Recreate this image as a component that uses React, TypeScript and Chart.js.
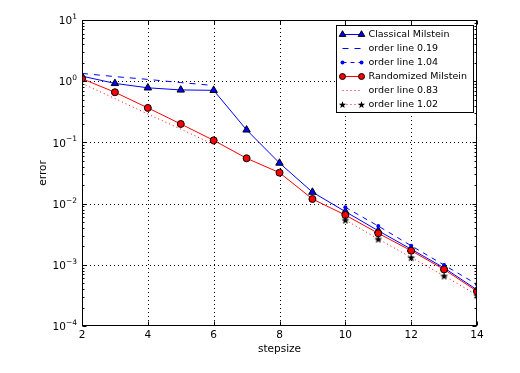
import { useEffect, useRef } from 'react';
import { Chart, registerables } from 'chart.js';

Chart.register(...registerables);

// ---- data ----
const steps = [2, 3, 4, 5, 6, 7, 8, 9, 10, 11, 12, 13, 14];
const classicalMilstein = [1.21, 0.92, 0.78, 0.72, 0.71, 0.16, 0.046, 0.0154, 0.0074, 0.0036, 0.0018, 0.00089, 0.00039];
const randomizedMilstein = [1.1, 0.66, 0.366, 0.2, 0.108, 0.055, 0.032, 0.0119, 0.0065, 0.00327, 0.0017, 0.00084, 0.00037];

const orderSteps019 = [2, 3, 4, 5, 6];
const orderLine019 = [1.34, 1.19, 1.07, 0.95, 0.85];
const orderSteps104 = [10, 11, 12, 13, 14];
const orderLine104 = [0.0087, 0.0043, 0.00205, 0.00099, 0.00048];
const orderSteps083 = [2, 3, 4, 5, 6];
const orderLine083 = [0.92, 0.52, 0.29, 0.165, 0.092];
const orderSteps102 = [10, 11, 12, 13, 14];
const orderLine102 = [0.0054, 0.00264, 0.00132, 0.00066, 0.00032];

const seriesLabels = [
  'Classical Milstein',
  'order line 0.19',
  'order line 1.04',
  'Randomized Milstein',
  'order line 0.83',
  'order line 1.02',
];

const xTicks = [2, 4, 6, 8, 10, 12, 14];
const yExponents = [-4, -3, -2, -1, 0, 1];

const FONT = "'DejaVu Sans', 'Liberation Sans', sans-serif";
const BLUE = '#0000ff';
const RED = '#ff0000';
const DASHED = [6, 6];
const DOTTED = [1, 3];

function starPath(ctx: CanvasRenderingContext2D, cx: number, cy: number, R: number) {
  const r = R * 0.42;
  ctx.beginPath();
  for (let i = 0; i < 10; i++) {
    const ang = -Math.PI / 2 + (i * Math.PI) / 5;
    const rad = i % 2 === 0 ? R : r;
    const px = cx + rad * Math.cos(ang);
    const py = cy + rad * Math.sin(ang);
    if (i === 0) ctx.moveTo(px, py);
    else ctx.lineTo(px, py);
  }
  ctx.closePath();
}

function makeStar(): HTMLCanvasElement {
  const c = document.createElement('canvas');
  c.width = 9;
  c.height = 9;
  const ctx = c.getContext('2d')!;
  starPath(ctx, 4.5, 5, 4.2);
  ctx.fillStyle = '#000';
  ctx.fill();
  return c;
}

type LegendSpec = {
  color: string;
  dash: number[];
  marker: 'triangle' | 'circle' | 'dot' | 'star' | 'none';
};

const legendSpecs: LegendSpec[] = [
  { color: BLUE, dash: [], marker: 'triangle' },
  { color: BLUE, dash: DASHED, marker: 'none' },
  { color: BLUE, dash: [4, 4], marker: 'dot' },
  { color: RED, dash: [], marker: 'circle' },
  { color: RED, dash: DOTTED, marker: 'none' },
  { color: RED, dash: DOTTED, marker: 'star' },
];

function drawMarker(ctx: CanvasRenderingContext2D, type: string, x: number, y: number) {
  ctx.save();
  ctx.setLineDash([]);
  if (type === 'triangle') {
    const r = 3.8;
    ctx.beginPath();
    ctx.moveTo(x, y - r);
    ctx.lineTo(x + r * 0.866, y + r * 0.5);
    ctx.lineTo(x - r * 0.866, y + r * 0.5);
    ctx.closePath();
    ctx.fillStyle = BLUE;
    ctx.fill();
    ctx.lineWidth = 1;
    ctx.strokeStyle = '#000';
    ctx.stroke();
  } else if (type === 'circle') {
    ctx.beginPath();
    ctx.arc(x, y, 3, 0, Math.PI * 2);
    ctx.fillStyle = RED;
    ctx.fill();
    ctx.lineWidth = 1;
    ctx.strokeStyle = '#000';
    ctx.stroke();
  } else if (type === 'dot') {
    ctx.beginPath();
    ctx.arc(x, y, 2, 0, Math.PI * 2);
    ctx.fillStyle = BLUE;
    ctx.fill();
  } else if (type === 'star') {
    starPath(ctx, x, y + 0.5, 3.8);
    ctx.fillStyle = '#000';
    ctx.fill();
  }
  ctx.restore();
}

const decorPlugin = {
  id: 'decor',
  beforeDatasetsDraw(chart: any) {
    const { ctx, chartArea: a, scales } = chart;
    const x = scales.x;
    const y = scales.y;
    ctx.save();
    ctx.strokeStyle = '#000';
    ctx.lineWidth = 1;
    ctx.setLineDash(DOTTED);
    for (const v of xTicks) {
      const px = Math.round(x.getPixelForValue(v)) + 0.5;
      if (px <= a.left + 1 || px >= a.right - 1) continue;
      ctx.beginPath();
      ctx.moveTo(px, a.top);
      ctx.lineTo(px, a.bottom);
      ctx.stroke();
    }
    for (const e of yExponents) {
      const py = Math.round(y.getPixelForValue(Math.pow(10, e))) + 0.5;
      if (py <= a.top + 1 || py >= a.bottom - 1) continue;
      ctx.beginPath();
      ctx.moveTo(a.left, py);
      ctx.lineTo(a.right, py);
      ctx.stroke();
    }
    ctx.restore();
  },
  afterDatasetsDraw(chart: any) {
    const { ctx, chartArea: a, scales } = chart;
    const x = scales.x;
    const y = scales.y;
    ctx.save();
    ctx.setLineDash([]);
    ctx.strokeStyle = '#000';
    ctx.lineWidth = 1;
    // frame
    const L = Math.round(a.left) + 0.5;
    const R = Math.round(a.right) - 0.5;
    const T = Math.round(a.top) + 0.5;
    const B = Math.round(a.bottom) - 0.5;
    ctx.strokeRect(L, T, R - L, B - T);
    // x ticks (inward, bottom and top)
    ctx.beginPath();
    for (const v of xTicks) {
      const px = Math.round(x.getPixelForValue(v)) + 0.5;
      ctx.moveTo(px, B);
      ctx.lineTo(px, B - 4);
      ctx.moveTo(px, T);
      ctx.lineTo(px, T + 4);
    }
    // y ticks major + minor
    for (const e of yExponents) {
      const py = Math.round(y.getPixelForValue(Math.pow(10, e))) + 0.5;
      ctx.moveTo(L, py);
      ctx.lineTo(L + 4, py);
      ctx.moveTo(R, py);
      ctx.lineTo(R - 4, py);
      if (e < 1) {
        for (let m = 2; m <= 9; m++) {
          const pm = Math.round(y.getPixelForValue(m * Math.pow(10, e))) + 0.5;
          ctx.moveTo(L, pm);
          ctx.lineTo(L + 2, pm);
          ctx.moveTo(R, pm);
          ctx.lineTo(R - 2, pm);
        }
      }
    }
    ctx.stroke();

    // y tick labels with superscripts
    ctx.fillStyle = '#000';
    for (const e of yExponents) {
      const py = y.getPixelForValue(Math.pow(10, e));
      const expText = e < 0 ? '\u2212' + String(-e) : String(e);
      ctx.font = `7.5px ${FONT}`;
      ctx.textAlign = 'right';
      ctx.textBaseline = 'alphabetic';
      const xr = a.left - 5;
      ctx.fillText(expText, xr, py - 1);
      const w = ctx.measureText(expText).width;
      ctx.font = `10.5px ${FONT}`;
      ctx.textBaseline = 'middle';
      ctx.fillText('10', xr - w, py + 1.5);
    }

    // axis titles
    ctx.font = `10.5px ${FONT}`;
    ctx.textAlign = 'center';
    ctx.textBaseline = 'middle';
    ctx.fillText('stepsize', (a.left + a.right) / 2, a.bottom + 23);
    ctx.save();
    ctx.translate(a.left - 39, (a.top + a.bottom) / 2);
    ctx.rotate(-Math.PI / 2);
    ctx.fillText('error', 0, 0);
    ctx.restore();

    // legend
    const bw = 137;
    const bh = 87;
    const bx = Math.round(a.right - 4 - bw) + 0.5;
    const by = Math.round(a.top + 5) + 0.5;
    ctx.fillStyle = '#fff';
    ctx.fillRect(bx, by, bw, bh);
    ctx.strokeStyle = '#000';
    ctx.lineWidth = 1;
    ctx.strokeRect(bx, by, bw, bh);
    ctx.font = `9.5px ${FONT}`;
    ctx.textAlign = 'left';
    ctx.textBaseline = 'middle';
    legendSpecs.forEach((s, i) => {
      const ry = by + 9 + i * 14;
      const x0 = bx + 6;
      const x1 = bx + 25;
      ctx.save();
      ctx.strokeStyle = s.color;
      ctx.lineWidth = 1;
      ctx.setLineDash(s.dash);
      ctx.beginPath();
      ctx.moveTo(x0, ry);
      ctx.lineTo(x1, ry);
      ctx.stroke();
      ctx.restore();
      if (s.marker !== 'none') {
        drawMarker(ctx, s.marker, x0, ry);
        drawMarker(ctx, s.marker, x1, ry);
      }
      ctx.fillStyle = '#000';
      ctx.fillText(seriesLabels[i], bx + 32, ry + 0.5);
    });
    ctx.restore();
  },
};

function pts(xs: number[], ys: number[]) {
  return xs.map((v, i) => ({ x: v, y: ys[i] }));
}

export default function App() {
  const ref = useRef<HTMLCanvasElement | null>(null);

  useEffect(() => {
    if (!ref.current) return;
    const star = makeStar();
    const chart = new Chart(ref.current, {
      type: 'line',
      data: {
        datasets: [
          {
            label: seriesLabels[0],
            data: pts(steps, classicalMilstein),
            borderColor: BLUE,
            borderWidth: 1,
            pointStyle: 'triangle',
            pointRadius: 4.3,
            pointBackgroundColor: BLUE,
            pointBorderColor: '#000',
            pointBorderWidth: 1,
            order: 6,
          },
          {
            label: seriesLabels[1],
            data: pts(orderSteps019, orderLine019),
            borderColor: BLUE,
            borderWidth: 1,
            borderDash: DASHED,
            pointRadius: 0,
            order: 5,
          },
          {
            label: seriesLabels[2],
            data: pts(orderSteps104, orderLine104),
            borderColor: BLUE,
            borderWidth: 1,
            borderDash: [5, 5],
            pointStyle: 'circle',
            pointRadius: 2,
            pointBackgroundColor: BLUE,
            pointBorderColor: BLUE,
            pointBorderWidth: 0,
            order: 4,
          },
          {
            label: seriesLabels[3],
            data: pts(steps, randomizedMilstein),
            borderColor: RED,
            borderWidth: 1,
            pointStyle: 'circle',
            pointRadius: 3.5,
            pointBackgroundColor: RED,
            pointBorderColor: '#000',
            pointBorderWidth: 1,
            order: 3,
          },
          {
            label: seriesLabels[4],
            data: pts(orderSteps083, orderLine083),
            borderColor: RED,
            borderWidth: 1,
            borderDash: DOTTED,
            pointRadius: 0,
            order: 2,
          },
          {
            label: seriesLabels[5],
            data: pts(orderSteps102, orderLine102),
            borderColor: RED,
            borderWidth: 1,
            borderDash: DOTTED,
            pointStyle: star as any,
            pointRadius: 4,
            order: 1,
          },
        ],
      },
      options: {
        animation: false,
        responsive: true,
        maintainAspectRatio: false,
        layout: { padding: { top: 20, right: 43, left: 0, bottom: 0 } },
        plugins: {
          legend: { display: false },
          tooltip: { enabled: false },
        },
        elements: { line: { tension: 0 } },
        scales: {
          x: {
            type: 'linear',
            min: 2,
            max: 14,
            grid: { display: false, drawTicks: false },
            border: { display: false },
            afterBuildTicks: (s: any) => {
              s.ticks = xTicks.map((v) => ({ value: v }));
            },
            afterFit: (s: any) => {
              s.height = 47;
            },
            ticks: {
              autoSkip: false,
              maxRotation: 0,
              padding: 3,
              color: '#000',
              font: { family: FONT, size: 10.5 },
            },
          },
          y: {
            type: 'logarithmic',
            min: 1e-4,
            max: 10,
            grid: { display: false, drawTicks: false },
            border: { display: false },
            afterBuildTicks: (s: any) => {
              s.ticks = yExponents.map((e) => ({ value: Math.pow(10, e) }));
            },
            afterFit: (s: any) => {
              s.width = 82;
            },
            ticks: { display: false },
          },
        },
      },
      plugins: [decorPlugin],
    } as any);
    return () => chart.destroy();
  }, []);

  return (
    <div style={{ position: 'absolute', left: 0, top: 0, width: 520, height: 373, background: '#fff' }}>
      <canvas ref={ref} />
    </div>
  );
}
